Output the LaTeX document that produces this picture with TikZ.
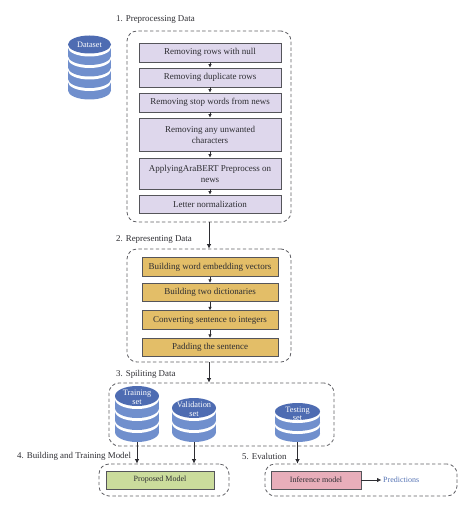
\documentclass[tikz,border=0pt]{standalone}
\usepackage{fontspec}
\setmainfont{Liberation Serif}
\usepackage{xcolor}
\usetikzlibrary{arrows.meta, positioning}
\definecolor{prepFill}{RGB}{222,215,236}
\definecolor{reprFill}{RGB}{227,190,104}
\definecolor{modelFill}{RGB}{203,220,156}
\definecolor{inferFill}{RGB}{232,174,186}
\definecolor{ink}{RGB}{45,45,50}
\definecolor{rowLine}{RGB}{85,85,90}
\definecolor{groupLine}{RGB}{95,95,100}
\definecolor{dbTop}{RGB}{78,108,178}
\definecolor{dbBand}{RGB}{112,143,205}
\definecolor{predText}{RGB}{85,115,180}
\tikzset{
  rowbox/.style={
    draw=rowLine,
    line width=.9pt,
    align=center,
    inner sep=0pt,
    text=ink,
    font=\fontsize{9}{11}\selectfont
  },
  prepNode/.style={rowbox, fill=prepFill, minimum width=142pt},
  reprNode/.style={rowbox, fill=reprFill, minimum width=136pt},
  modelNode/.style={rowbox, fill=modelFill, font=\fontsize{8}{10}\selectfont},
  inferNode/.style={rowbox, fill=inferFill, font=\fontsize{8}{10}\selectfont},
  group/.style={
    draw=groupLine,
    thick,
    dash pattern=on 3.4pt off 2.4pt,
    rounded corners=10pt,
    inner sep=0pt
  },
  stepArrow/.style={-{Latex[length=3.4pt,width=3.6pt]}, line width=.7pt, draw=ink},
  linkArrow/.style={-{Latex[length=4.4pt,width=4.4pt]}, line width=.7pt, draw=ink},
  heading/.style={anchor=west, inner sep=0pt, text=ink, font=\fontsize{8.9}{11}\selectfont},
  dbhead/.style={
    inner sep=0pt,
    align=center,
    text=white,
    font=\fontsize{8.3}{8.5}\selectfont
  }
}

\begin{document}
\begin{tikzpicture}[x=1pt, y=-1pt, node distance=5.1pt]
  \useasboundingbox (0,0) rectangle (474,513);

  % dashed groups
  \node[group, minimum width=164pt, minimum height=191pt] (prepGroup) at (209,126.5) {};
  \node[group, minimum width=164pt, minimum height=113pt] (reprGroup) at (209,305.5) {};
  \node[group, minimum width=225pt, minimum height=63pt] (splitGroup) at (221.5,414.5) {};
  \node[group, minimum width=130pt, minimum height=32pt] (trainGroup) at (164,480) {};
  \node[group, minimum width=192pt, minimum height=32pt] (evalGroup) at (361,480) {};

  \node[heading] (prepTitle) at (116,20) {1. Preprocessing Data};
  \node[heading] (reprTitle) at (116,240) {2. Representing Data};
  \node[heading] (splitTitle) at (116,374) {3. Spiliting Data};
  \node[heading] (trainTitle) at (17,456) {4. Building and Training Model};
  \node[heading] (evalTitle) at (242,456) {5. Evalution};

  % preprocessing column
  \node[prepNode, minimum height=19pt] (nullRows) at (210,52.5) {Removing rows with null};
  \node[prepNode, minimum height=19pt, below=of nullRows] (dupRows) {Removing duplicate rows};
  \node[prepNode, minimum height=19pt, below=of dupRows] (stopWords) {Removing stop words from news};
  \node[prepNode, minimum height=33pt, below=of stopWords] (unwanted) {Removing any unwanted\\characters};
  \node[prepNode, minimum height=31pt, below=6.1pt of unwanted] (araBert) {ApplyingAraBERT Preprocess on\\news};
  \node[prepNode, minimum height=18pt, below=of araBert] (letterNorm) {Letter normalization};

  % representing column
  \node[reprNode, minimum height=18.5pt] (embedding) at (210,267) {Building word embedding vectors};
  \node[reprNode, minimum height=18.5pt, below=6.1pt of embedding] (dictionaries) {Building two dictionaries};
  \node[reprNode, minimum height=18.5pt, below=8.1pt of dictionaries] (integers) {Converting sentence to integers};
  \node[reprNode, minimum height=18.5pt, below=8.1pt of integers] (padding) {Padding the sentence};

  % stacks: name/x/y/rx/ry/bands/pitch/band height/text y/text
  \foreach \stackname/\cx/\cy/\rx/\ry/\bands/\pitch/\bandh/\texty/\txt in {
      dataset/89.5/44.5/21.5/9/4/11.5/8.5/44.5/{Dataset},
      trainSet/137/396/22/10/3/12/9/397.5/{Training\\set},
      validSet/194/408/22/10/2/12/9/409/{Validation\\set},
      testSet/297.5/411.5/22.5/8.5/2/11/8/414/{Testing\\set}} {
    \foreach \band in {\bands,...,1} {
      \fill[dbBand] (\cx,\cy+\band*\pitch) ellipse [x radius=\rx, y radius=\ry];
      \fill[dbBand] (\cx-\rx,\cy+\band*\pitch-\bandh) rectangle (\cx+\rx,\cy+\band*\pitch);
      \fill[white] (\cx,\cy+\band*\pitch-\bandh) ellipse [x radius=\rx, y radius=\ry];
    }
    \fill[dbTop] (\cx,\cy) ellipse [x radius=\rx, y radius=\ry];
    \node[dbhead] (\stackname) at (\cx,\texty) {\txt};
    \coordinate (\stackname Foot) at (\cx,\cy+\bands*\pitch+\ry);
  }

  % models
  \node[modelNode, minimum width=108pt, minimum height=18pt] (proposed) at (160,480) {Proposed Model};
  \node[inferNode, minimum width=90pt, minimum height=18pt] (inference) at (316,480) {Inference model};
  \node[right=20pt of inference, inner xsep=1.5pt, text=predText, font=\fontsize{8}{10}\selectfont] (predictions) {Predictions};

  \draw[stepArrow] (nullRows) -- (dupRows);
  \draw[stepArrow] (dupRows) -- (stopWords);
  \draw[stepArrow] (stopWords) -- (unwanted);
  \draw[stepArrow] (unwanted) -- (araBert);
  \draw[stepArrow] (araBert) -- (letterNorm);
  \draw[stepArrow] (embedding) -- (dictionaries);
  \draw[stepArrow] (dictionaries) -- (integers);
  \draw[stepArrow] (integers) -- (padding);
  \draw[linkArrow] (prepGroup) -- (reprGroup);
  \draw[linkArrow] (reprGroup) -- (reprGroup.south |- splitGroup.north);
  \draw[linkArrow] (trainSetFoot) -- (trainSetFoot |- trainGroup.north);
  \draw[linkArrow] (validSetFoot) -- (validSetFoot |- trainGroup.north);
  \draw[linkArrow] (testSetFoot) -- (testSetFoot |- evalGroup.north);
  \draw[linkArrow] (inference) -- (predictions);
\end{tikzpicture}
\end{document}
